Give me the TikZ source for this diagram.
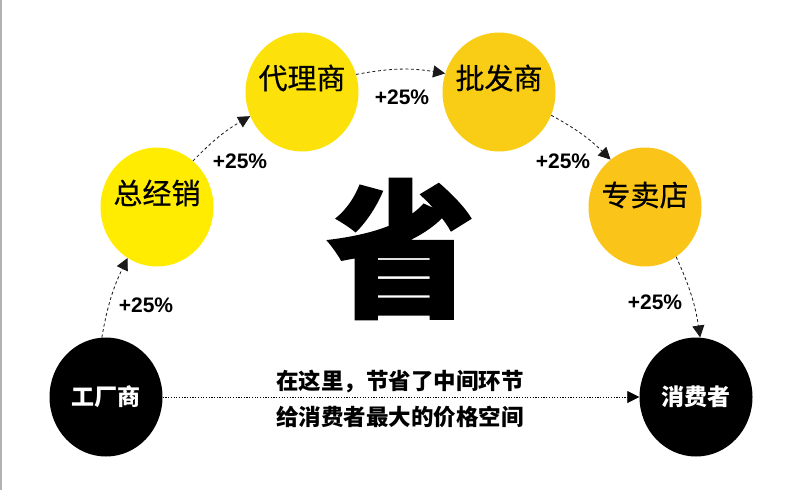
\documentclass[tikz,border=0pt]{standalone}
\usepackage{fontspec}
\usetikzlibrary{arrows.meta,shapes.geometric}
\setmainfont{Liberation Sans}
\newfontfamily\cjk{Noto Sans CJK SC}
\newfontfamily\cjkmid[FakeBold=0.4]{Noto Sans CJK SC}
\newfontfamily\cjkheavy[BoldFeatures={FakeBold=1.6}]{Noto Sans CJK SC}
\definecolor{yA}{HTML}{FFEC00}
\definecolor{yB}{HTML}{FCE20A}
\definecolor{yC}{HTML}{F9CD15}
\definecolor{yD}{HTML}{FAC418}
\tikzset{
  disc/.style={ellipse,minimum width=113pt,minimum height=119pt,inner sep=0pt,draw=none},
  ctext/.style={font=\cjkmid\fontsize{29}{29}\selectfont,text=black,inner sep=0pt},
  wtext/.style={font=\cjk\bfseries\fontsize{23}{23}\selectfont,text=white,inner sep=0pt},
  pct/.style={font=\bfseries\fontsize{21}{21}\selectfont,inner sep=0pt},
  flow/.style={draw=black!90,line width=0.8pt,dash pattern=on 3pt off 2.5pt,
    -{Triangle[length=12pt,width=12pt]}},
  direct/.style={draw=black,line width=0.8pt,dash pattern=on 1.2pt off 1.5pt,
    -{Triangle[length=12pt,width=12pt]}},
  btext/.style={font=\cjk\bfseries\fontsize{22.5}{22.5}\selectfont,inner sep=0pt}
}
\begin{document}
\begin{tikzpicture}[x=1pt,y=-1pt]
\fill[white] (0,0) rectangle (792,490);
\path[use as bounding box] (0,0) rectangle (792,490);
\draw[black!30,line width=1.5pt] (1,0) -- (1,490);
% circles
\node[disc,fill=black] (gcs) at (106,397) {};
\node[disc,fill=yA] (zjx) at (157,207) {};
\node[disc,fill=yB] (dls) at (302,92) {};
\node[disc,fill=yC] (pfs) at (499,92) {};
\node[disc,fill=yD] (zmd) at (645,207) {};
\node[disc,fill=black] (xfz) at (696,397) {};
% circle labels
\node[wtext] (gcsT) at (106,397) {工厂商};
\node[ctext] (zjxT) at (157,193) {总经销};
\node[ctext] (dlsT) at (302,78) {代理商};
\node[ctext] (pfsT) at (499,78) {批发商};
\node[ctext] (zmdT) at (645,195) {专卖店};
\node[wtext] (xfzT) at (696,397) {消费者};
% flow arrows
\draw[flow] (gcs.94) to[bend left=8] (zjx.240);
\draw[flow] (zjx.52) to[bend left=8] (dls.205);
\draw[flow] (dls.18) to[bend left=10] (pfs.161);
\draw[flow] (pfs.336) to[bend left=8] (zmd.126);
\draw[flow] (zmd.302) to[bend left=8] (xfz.86);
% percentages
\node[pct] (p1) at (146,305) {+25\%};
\node[pct] (p2) at (240,161) {+25\%};
\node[pct] (p3) at (402,97) {+25\%};
\node[pct] (p4) at (563,161) {+25\%};
\node[pct] (p5) at (655,302) {+25\%};
% direct route
\draw[direct] (gcs.east) -- (xfz.west);
\node[btext] (l1) at (400,382) {在这里，节省了中间环节};
\node[btext] (l2) at (400,417) {给消费者最大的价格空间};
% big character
\node[font=\cjkheavy\bfseries\fontsize{148}{148}\selectfont,inner sep=0pt] (sheng) at (401,249) {省};
\end{tikzpicture}
\end{document}
